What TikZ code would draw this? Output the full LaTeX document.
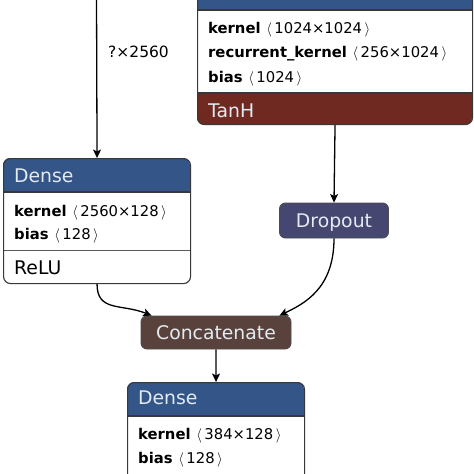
\documentclass[tikz,border=0pt]{standalone}
\usepackage{fontspec}
\setmainfont{DejaVu Sans}
\usetikzlibrary{arrows.meta}
\definecolor{layerblue}{RGB}{51,85,136}
\definecolor{actred}{RGB}{112,41,33}
\definecolor{dropcol}{RGB}{69,71,112}
\definecolor{tensorcol}{RGB}{89,66,59}
\definecolor{hdrtext}{RGB}{228,234,242}
\tikzset{
 boxline/.style={draw=black!78, line width=1.1pt},
 hdr/.style={text=hdrtext, font=\fontsize{18.8}{18.8}\selectfont, anchor=base west, inner sep=0},
 attr/.style={text=black, font=\fontsize{14.8}{14.8}\selectfont, anchor=base west, inner sep=0},
 pill/.style={rounded corners=6pt, draw=black!70, line width=0.9pt, text=hdrtext, font=\fontsize{18.8}{18.8}\selectfont, inner sep=0, text height=13.6pt, text depth=0pt},
 conn/.style={black, line width=1.3pt, -{Stealth[length=8.5pt,width=8pt,inset=2pt]}},
}
\newcommand{\dims}[1]{\kern1pt$\langle$\kern2.5pt#1\kern2.5pt$\rangle$}
\begin{document}
\begin{tikzpicture}[x=1pt,y=-1pt]
\useasboundingbox (0,0) rectangle (474,474);
\fill[white] (0,0) rectangle (474,474);
\begin{scope}
\clip (0,0) rectangle (474,474);
% top right recurrent layer
\begin{scope}
\clip[rounded corners=7pt] (197,-40) rectangle (472,125);
\fill[layerblue] (197,-40) rectangle (472,10);
\fill[actred] (197,93) rectangle (472,125);
\end{scope}
\draw[boxline] (197,10) -- (472,10);
\draw[boxline] (197,93) -- (472,93);
\node[boxline, rounded corners=7pt, minimum width=275pt, minimum height=165pt, anchor=south west, inner sep=0] (rnn) at (197,125) {};
\node[attr] (rk) at (208,33) {\textbf{kernel} \dims{1024×1024}};
\node[attr] (rr) at (208,57.5) {\textbf{recurrent\_kernel} \dims{256×1024}};
\node[attr] (rb) at (208,82) {\textbf{bias} \dims{1024}};
\node[hdr] (tanh) at (208,117) {TanH};
% left dense
\begin{scope}
\clip[rounded corners=7pt] (3,158) rectangle (190,283);
\fill[layerblue] (3,158) rectangle (190,192);
\end{scope}
\draw[boxline] (3,192) -- (190,192);
\draw[boxline, draw=black!65, line width=0.9pt] (3,250) -- (190,250);
\node[boxline, rounded corners=7pt, minimum width=187pt, minimum height=125pt, anchor=north west, inner sep=0] (dense1) at (3,158) {};
\node[hdr] (d1t) at (14,182) {Dense};
\node[attr] (d1k) at (14,216) {\textbf{kernel} \dims{2560×128}};
\node[attr] (d1b) at (14,239) {\textbf{bias} \dims{128}};
\node[hdr, text=black] (relu) at (14,274) {ReLU};
% input arrow
\coordinate (in) at (96.5,-5);
\draw[conn] (in) -- (dense1.north);
\node[attr, font=\fontsize{15.5}{15.5}\selectfont] (lbl) at (108,57.5) {?×2560};
% dropout
\node[pill, fill=dropcol, minimum width=109pt, minimum height=35pt] (drop) at (334,220.5) {Dropout};
\draw[conn] (rnn.south) -- (drop.north);
% concatenate
\node[pill, fill=tensorcol, minimum width=150pt, minimum height=33pt] (concat) at (216,332.5) {Concatenate};
\draw[conn] (dense1.south) .. controls +(0,28) and +(-30,-12) .. ([xshift=11pt]concat.north west);
\draw[conn] (drop.south) .. controls +(0,50) and +(25,-12) .. ([xshift=-12pt]concat.north east);
% bottom dense
\begin{scope}
\clip[rounded corners=7pt] (127,382) rectangle (304,530);
\fill[layerblue] (127,382) rectangle (304,416);
\end{scope}
\draw[boxline] (127,416) -- (304,416);
\node[boxline, rounded corners=7pt, minimum width=177pt, minimum height=148pt, anchor=north west, inner sep=0] (dense2) at (127,382) {};
\draw[conn] (concat.south) -- (dense2.north);
\node[hdr] (d2t) at (138,404) {Dense};
\node[attr] (d2k) at (138,439) {\textbf{kernel} \dims{384×128}};
\node[attr] (d2b) at (138,463) {\textbf{bias} \dims{128}};
\end{scope}
\end{tikzpicture}
\end{document}
